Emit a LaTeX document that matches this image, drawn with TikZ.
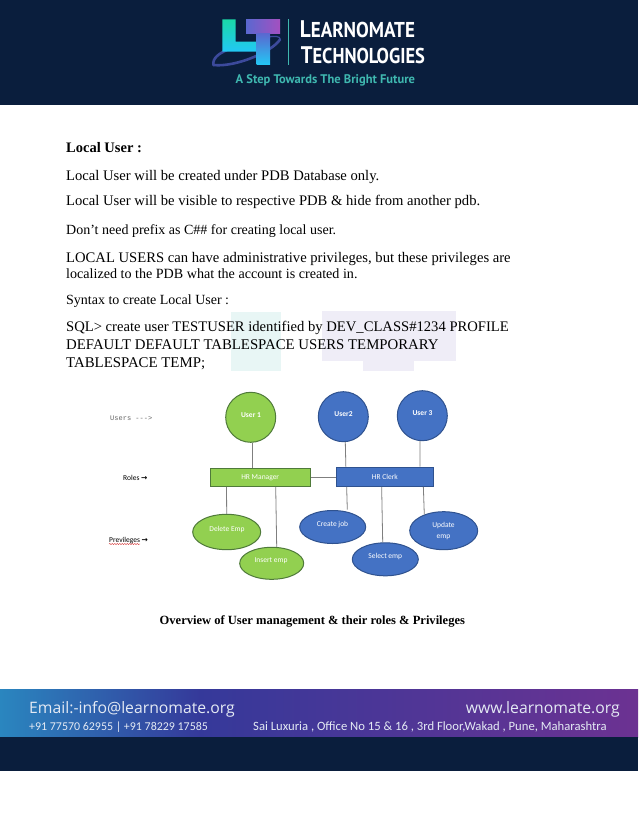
\documentclass[tikz,border=0pt]{standalone}
\usepackage{fontspec}
\setmainfont{Liberation Serif}
\newfontfamily\carl{Carlito}
\newfontfamily\opens{Open Sans}
\newfontfamily\ptb{PT Sans}
\newfontfamily\djv{DejaVu Sans}
\newfontfamily\lmono{Liberation Mono}
\usetikzlibrary{decorations.pathmorphing,shapes.geometric}
\definecolor{navy}{HTML}{0A1E3D}
\definecolor{gfill}{HTML}{92D050}
\definecolor{gline}{HTML}{4F7A3A}
\definecolor{bfill}{HTML}{4472C4}
\definecolor{bline}{HTML}{2F528F}
\definecolor{conn}{HTML}{7F7F7F}
\definecolor{tagc}{HTML}{3FB8B0}
\definecolor{ringc}{HTML}{3C4A9C}
\definecolor{ltop}{HTML}{1AD8A8}
\definecolor{lbot}{HTML}{22C8F5}
\definecolor{tleft}{HTML}{5A68D0}
\definecolor{tright}{HTML}{A450C0}
\definecolor{paleteal}{HTML}{E8F6F5}
\definecolor{palevio}{HTML}{EFEDF7}
\definecolor{fleft}{HTML}{2A86BF}
\definecolor{fmid}{HTML}{35399A}
\definecolor{fright}{HTML}{6C3292}
\definecolor{ftxt}{HTML}{E4EAF4}
\tikzset{
 body/.style={anchor=base west,inner sep=0,text=black},
 usrg/.style={circle,draw=gline,fill=gfill,line width=1pt,minimum size=50pt,inner sep=0},
 usrb/.style={usrg,draw=bline,fill=bfill},
 rolg/.style={rectangle,draw=gline,fill=gfill,line width=1pt,inner sep=0,text=white,font=\carl\fontsize{7.5}{9}\selectfont},
 rolb/.style={rolg,draw=bline,fill=bfill},
 elg/.style={ellipse,draw=gline,fill=gfill,line width=1pt,inner sep=0},
 elb/.style={elg,draw=bline,fill=bfill},
 link/.style={draw=conn,line width=.8pt},
 side/.style={anchor=base west,inner sep=0,font=\carl\fontsize{7.5}{9}\selectfont,text=black},
 ulabel/.style={text=white,inner sep=0,font=\carl\bfseries\fontsize{7.5}{9}\selectfont},
 elabel/.style={text=white,inner sep=0,align=center,font=\carl\fontsize{7.5}{11.5}\selectfont},
 foot/.style={inner sep=0,text=ftxt},
 ringline/.style={draw=ringc,line width=2.6pt,line cap=round}
}
\newcommand{\bfs}[1]{\fontsize{#1}{#1}\selectfont}
\begin{document}
\begin{tikzpicture}[x=1pt,y=-1pt]
\useasboundingbox (0,0) rectangle (638,826);
\fill[white] (0,0) rectangle (638,826);
% header
\fill[navy] (0,0) rectangle (638,105);
% logo: ring back parts, L, ring front, T
\draw[ringline] (213.5,65) .. controls (212,58) and (220,53) .. (227,50);
\draw[ringline,line width=1.2pt] (268,37) .. controls (274,36) and (281,36) .. (280,39.5);
\shade[top color=ltop,bottom color=lbot]
 (222.3,19.3) -- (235.7,19.3) -- (235.7,41.7) -- (258.3,41.7) -- (258.3,51.7) -- (222.3,51.7) -- cycle;
\draw[ringline] (213.5,65) .. controls (235,67.5) and (272,52) .. (280,39.5);
\shade[left color=tleft,right color=tright] (246,19.3) rectangle (280,33.3);
\shade[top color=tleft,bottom color=lbot] (256.7,33.3) rectangle (270,65);
\fill[tagc] (288,19.3) rectangle (289.3,65);
\node[anchor=base west,inner sep=0,text=white] at (299.7,37.5) {\scalebox{.885}[1]{\ptb\bfseries\bfs{24}L\bfs{21.5}EARNOMATE}};
\node[anchor=base west,inner sep=0,text=white] at (300.7,64) {\scalebox{.857}[1]{\ptb\bfseries\bfs{24}T\bfs{21.5}ECHNOLOGIES}};
\node[anchor=base west,inner sep=0,text=tagc] at (235.5,84) {\ptb\bfseries\bfs{12.5}A Step Towards The Bright Future};
% pale marks
\fill[paleteal] (230.7,311.7) rectangle (281,371);
\fill[palevio] (322,310.7) rectangle (456,361.3);
\fill[palevio] (363.3,361) rectangle (414,371);
% body text
\node[body,font=\bfseries\bfs{14.5}] (t1) at (66,153) {Local User :};
\node[body,font=\bfs{14.63}] (t2) at (66,180.5) {Local User will be created under PDB Database only.};
\node[body,font=\bfs{14.63}] (t3) at (66,205.7) {Local User will be visible to respective PDB \& hide from another pdb.};
\node[body,font=\bfs{14}] (t4) at (66,234) {Don’t need prefix as C\#\# for creating local user.};
\node[body,font=\bfs{14.63}] (t5) at (66,262) {LOCAL USERS can have administrative privileges, but these privileges are};
\node[body,font=\bfs{14.1}] (t6) at (66,278) {localized to the PDB what the account is created in.};
\node[body,font=\bfs{14}] (t7) at (66,304.5) {Syntax to create Local User :};
\node[body,font=\bfs{14.63}] (t8) at (66,331.5) {SQL> create user TESTUSER identified by DEV\_CLASS\#1234 PROFILE};
\node[body,font=\bfs{14.8}] (t9) at (66,349) {DEFAULT DEFAULT TABLESPACE USERS TEMPORARY};
\node[body,font=\bfs{14.85}] (t10) at (66,367) {TABLESPACE TEMP;};
% side labels
\node[anchor=base west,inner sep=0,text=black!60,font=\lmono\bfs{7}] (s1) at (110,420.5) {Users --->};
\node[side] (s2) at (123,480) {Roles {\djv\bfseries\bfs{7.5}→}};
\node[side] (s3) at (109,542) {Previleges {\djv\bfseries\bfs{7.5}→}};
\coordinate (wa) at (109,544);
\coordinate (wb) at (140,544);
\draw[red!80!black,line width=.35pt,decorate,decoration={snake,amplitude=.5pt,segment length=2.5pt}] (wa) -- (wb);
% diagram
\node[usrg] (u1) at (250.7,417.3) {};
\node[ulabel] (u1t) at (251,415) {User 1};
\node[usrb] (u2) at (343.3,416.7) {};
\node[ulabel] (u2t) at (343.5,414.5) {User2};
\node[usrb] (u3) at (422.3,415.7) {};
\node[ulabel] (u3t) at (422.5,413) {User 3};
\node[rolg,minimum width=99.7pt,minimum height=18pt] (hrm) at (260.2,477.3) {HR Manager};
\node[rolb,minimum width=96.3pt,minimum height=19.3pt] (hrc) at (384.85,476.7) {HR Clerk};
\node[elg,minimum width=68pt,minimum height=35.4pt] (del) at (226.7,532) {};
\node[elabel] (delt) at (227,529) {Delete Emp};
\node[elg,minimum width=64pt,minimum height=32pt] (ins) at (271.7,563.3) {};
\node[elabel] (inst) at (271,560.5) {Insert emp};
\node[elb,minimum width=66pt,minimum height=33pt] (cre) at (332.7,527) {};
\node[elabel] (cret) at (332.5,525) {Create job};
\node[elb,minimum width=66pt,minimum height=33pt] (sel) at (385.3,559.3) {};
\node[elabel] (selt) at (385.3,556.5) {Select emp};
\node[elb,minimum width=68pt,minimum height=38pt] (upd) at (443.7,530.7) {};
\node[elabel] (updt) at (443.5,531) {Update\\emp};
\draw[link] ([xshift=2pt]u1.south) -- ([xshift=-7.5pt]hrm.north);
\draw[link] ([xshift=2pt]u2.south) -- ([xshift=-39pt]hrc.north);
\draw[link] ([xshift=-2.3pt]u3.south) -- ([xshift=35.2pt]hrc.north);
\draw[link] (hrm.east) -- (hrm.east -| hrc.west);
\draw[link] ([xshift=-33.7pt]hrm.south) -- (del.north);
\draw[link] ([xshift=15.5pt]hrm.south) -- ([xshift=5pt]ins.north);
\draw[link] ([xshift=-38.2pt]hrc.south) -- ([xshift=14.6pt,yshift=.3pt]cre.north);
\draw[link] ([xshift=-3.2pt]hrc.south) -- ([xshift=-2.6pt]sel.north);
\draw[link] ([xshift=38.5pt]hrc.south) -- ([xshift=-19.4pt,yshift=-3.5pt]upd.north);
\node[anchor=base west,inner sep=0,font=\bfseries\bfs{12.53}] (cap) at (159.5,624.5) {Overview of User management \& their roles \& Privileges};
% footer
\shade[left color=fleft,right color=fmid] (0,689) rectangle (200,737);
\shade[left color=fmid,right color=fright] (200,689) rectangle (638,737);
\fill[navy] (0,737) rectangle (638,771);
\node[foot,anchor=base west,font=\opens\bfs{15.75}] (f1) at (29,713) {Email:-info@learnomate.org};
\node[foot,anchor=base east,font=\opens\bfs{15.75}] (f2) at (620,713) {www.learnomate.org};
\node[foot,anchor=base west,font=\carl\bfs{11.93}] (f3) at (29,730) {+91 77570 62955 | +91 78229 17585};
\node[foot,anchor=base west,font=\carl\bfs{12.66}] (f4) at (253,730) {Sai Luxuria , Office No 15 \& 16 , 3rd Floor,Wakad , Pune, Maharashtra};
\end{tikzpicture}
\end{document}
